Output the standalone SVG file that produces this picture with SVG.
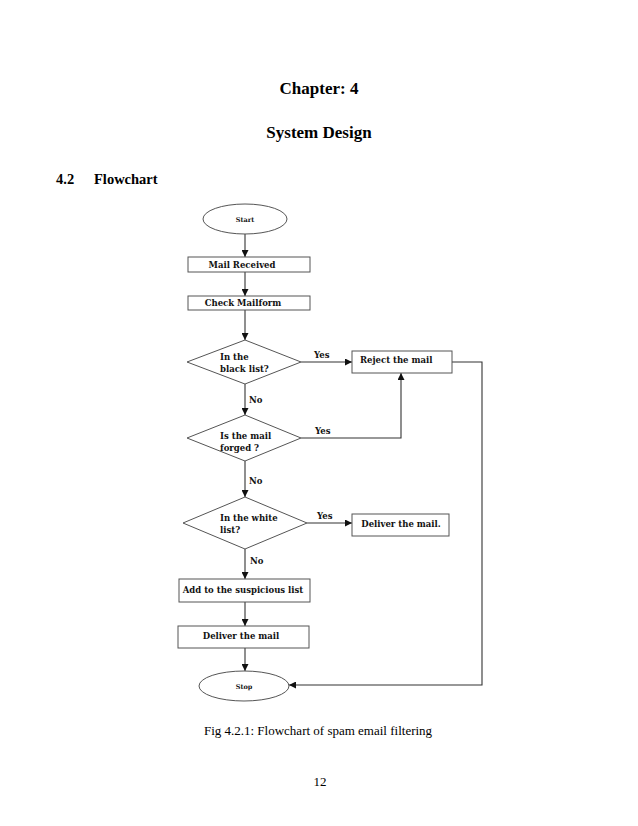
<svg xmlns="http://www.w3.org/2000/svg" width="638" height="826" viewBox="0 0 638 826">
<style>
.page{font-family:"Liberation Serif","Times New Roman",serif;fill:#000}
.h{font-weight:bold;font-size:17px}
.h2{font-weight:bold;font-size:14.5px}
.cap{font-size:13px}
.n{font-family:"DejaVu Serif",serif;font-weight:bold;font-size:8.5px;fill:#111}
.s{font-family:"DejaVu Serif",serif;font-weight:bold;font-size:6.5px;fill:#111}
.shape{fill:#fff;stroke:#555;stroke-width:1}
.c{fill:none;stroke:#333;stroke-width:1.1}
</style>
<defs>
<marker id="ah" viewBox="0 0 10 10" refX="10" refY="5" markerWidth="7" markerHeight="7" markerUnits="userSpaceOnUse" orient="auto">
<path d="M0,0 L10,5 L0,10 z" fill="#111"/>
</marker>
</defs>
<rect width="638" height="826" fill="#fff"/>
<text class="page h" x="319" y="94" text-anchor="middle">Chapter: 4</text>
<text class="page h" x="319" y="138" text-anchor="middle">System Design</text>
<text class="page h2" x="56" y="184">4.2</text>
<text class="page h2" x="94" y="184">Flowchart</text>

<g id="connectors">
<line class="c" x1="245" y1="234" x2="245" y2="257" marker-end="url(#ah)"/>
<line class="c" x1="245" y1="272" x2="245" y2="296" marker-end="url(#ah)"/>
<line class="c" x1="245" y1="310" x2="245" y2="340" marker-end="url(#ah)"/>
<line class="c" x1="245" y1="384" x2="245" y2="415" marker-end="url(#ah)"/>
<line class="c" x1="301" y1="362" x2="352" y2="362" marker-end="url(#ah)"/>
<polyline class="c" points="301,438 401,438 401,373" marker-end="url(#ah)"/>
<line class="c" x1="245" y1="461" x2="245" y2="497" marker-end="url(#ah)"/>
<line class="c" x1="307" y1="523" x2="352" y2="523" marker-end="url(#ah)"/>
<line class="c" x1="245" y1="549" x2="245" y2="579" marker-end="url(#ah)"/>
<line class="c" x1="245" y1="602" x2="245" y2="626" marker-end="url(#ah)"/>
<line class="c" x1="245" y1="648" x2="245" y2="671" marker-end="url(#ah)"/>
<polyline class="c" points="452,362 482,362 482,685 289,685" marker-end="url(#ah)"/>
<text class="n" x="314" y="358">Yes</text>
<text class="n" x="249" y="403">No</text>
<text class="n" x="315" y="434">Yes</text>
<text class="n" x="249" y="484">No</text>
<text class="n" x="317" y="519">Yes</text>
<text class="n" x="250" y="564">No</text>
</g>

<g id="start">
<ellipse class="shape" cx="245" cy="219" rx="42" ry="15"/>
<text class="s" x="245" y="221.5" text-anchor="middle">Start</text>
</g>
<g id="mail-received">
<rect class="shape" x="188" y="257" width="122" height="15"/>
<text class="n" x="242" y="268" text-anchor="middle">Mail Received</text>
</g>
<g id="check-mailform">
<rect class="shape" x="188" y="296" width="122" height="14"/>
<text class="n" x="243" y="306" text-anchor="middle">Check Mailform</text>
</g>
<g id="black-list">
<polygon class="shape" points="245,340 301,362 245,384 187,362"/>
<text class="n" x="220" y="360">In the</text>
<text class="n" x="220" y="372">black list?</text>
</g>
<g id="reject">
<rect class="shape" x="352" y="351" width="100" height="22"/>
<text class="n" x="360" y="363">Reject the mail</text>
</g>
<g id="forged">
<polygon class="shape" points="245,415 301,438 245,461 187,438"/>
<text class="n" x="220" y="439">Is the mail</text>
<text class="n" x="220" y="451">forged ?</text>
</g>
<g id="white-list">
<polygon class="shape" points="245,497 307,523 245,549 183,523"/>
<text class="n" x="220" y="521">In the white</text>
<text class="n" x="220" y="533">list?</text>
</g>
<g id="deliver-white">
<rect class="shape" x="352" y="514" width="97" height="22"/>
<text class="n" x="401" y="527" text-anchor="middle">Deliver the mail.</text>
</g>
<g id="suspicious">
<rect class="shape" x="179" y="579" width="131" height="23"/>
<text class="n" x="243" y="593" text-anchor="middle">Add to the suspicious list</text>
</g>
<g id="deliver">
<rect class="shape" x="178" y="626" width="131" height="22"/>
<text class="n" x="241" y="639" text-anchor="middle">Deliver the mail</text>
</g>
<g id="stop">
<ellipse class="shape" cx="244" cy="686" rx="45" ry="15"/>
<text class="s" x="244" y="688.5" text-anchor="middle">Stop</text>
</g>

<text class="page cap" x="318" y="735" text-anchor="middle">Fig 4.2.1: Flowchart of spam email filtering</text>
<text class="page cap" x="320" y="786" text-anchor="middle">12</text>
</svg>
